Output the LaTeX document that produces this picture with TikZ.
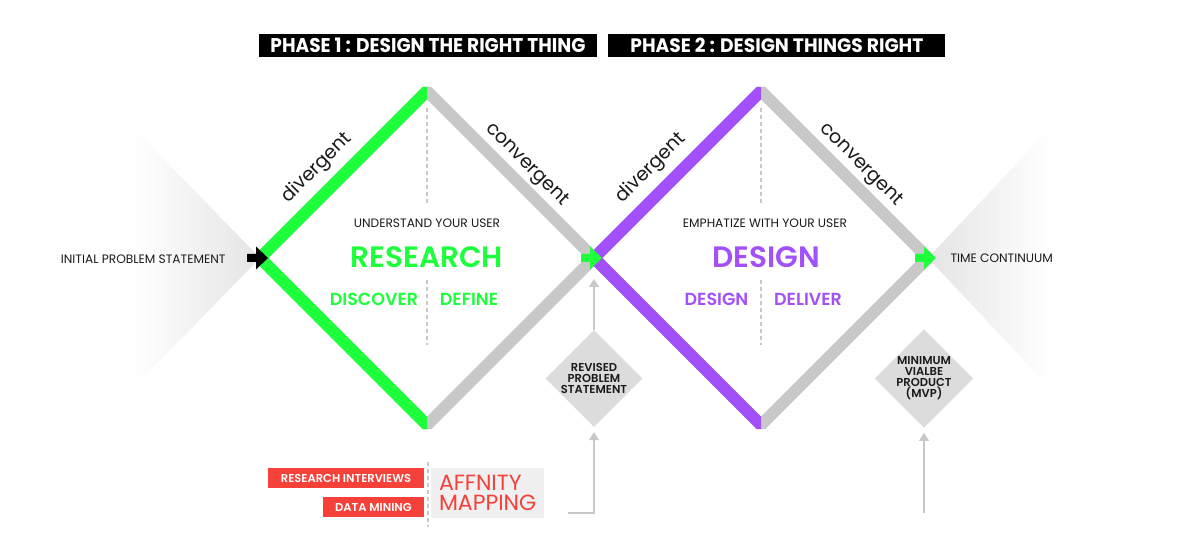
\documentclass[tikz,border=0pt]{standalone}
\usepackage{graphicx}
\usepackage{fontspec}
\setmainfont{Poppins}
\IfFontExistsTF{Poppins SemiBold}
  {\newfontfamily\semifont{Poppins SemiBold}}
  {\newcommand\semifont{\bfseries}}
\usepackage{tikz}
\usetikzlibrary{shapes,arrows.meta,positioning}

\definecolor{ddgreen}{HTML}{1EFF3C}
\definecolor{ddpurple}{HTML}{A450FA}
\definecolor{ddgray}{HTML}{C8C8C8}
\definecolor{ddfade}{HTML}{E4E4E4}
\definecolor{ddbox}{HTML}{DCDCDC}
\definecolor{ddred}{HTML}{F5413A}
\definecolor{ddpale}{HTML}{F0F0F0}
\definecolor{ddink}{HTML}{1A1A1A}

\begin{document}
\begin{tikzpicture}[x=1pt,y=-1pt,>={Triangle[width=10pt,length=8pt]},
    sideline/.style={line width=12pt,line join=bevel},
    guideline/.style={ddgray,line width=1.2pt,dash pattern=on 4pt off 3pt},
    linkline/.style={ddgray,line width=1.2pt,->},
    phasebar/.style={fill=black,text=white,minimum width=338pt,minimum height=23pt,
                     inner sep=0pt,font=\bfseries},
    edgetext/.style={text=ddink,font=\fontsize{19}{19}\selectfont},
    smallcap/.style={text=ddink,font=\fontsize{12.2}{12}\selectfont},
    bigword/.style={font=\semifont\fontsize{29.5}{29}\selectfont},
    subword/.style={font=\semifont\fontsize{17.5}{17}\selectfont},
    milestone/.style={diamond,fill=ddbox,minimum size=97pt,inner sep=0pt,align=center,
                      text=ddink,font=\semifont\fontsize{11.5}{11}\selectfont},
    tagbox/.style={fill=ddred,text=white,minimum height=20pt,inner sep=0pt,
                   font=\semifont\fontsize{11.5}{11}\selectfont},
    mapbox/.style={fill=ddpale,text=ddred,align=left,text width=97pt,inner xsep=8pt,
                   minimum height=50pt,font=\fontsize{22}{20}\selectfont},
    blockarrow/.pic={\fill[#1] (-13,-4) -- (-4,-4) -- (-4,-11.5) -- (8,0)
                       -- (-4,11.5) -- (-4,4) -- (-13,4) -- cycle;}]

  \useasboundingbox (0,0) rectangle (1200,540);
  \fill[white] (0,0) rectangle (1200,540);

  \coordinate (L1) at (260,258);
  \coordinate (T1) at (427,91);
  \coordinate (R1) at (594,258);
  \coordinate (B1) at (427,425);
  \coordinate (T2) at (761,91);
  \coordinate (R2) at (928,258);
  \coordinate (B2) at (761,425);

  \shade[left color=white,right color=ddfade] (133,128) -- (L1) -- (133,388) -- cycle;
  \shade[left color=ddfade,right color=white] (R2) -- (1050,128) -- (1050,388) -- cycle;

  \draw[sideline,ddgray] (L1) -- (T1) -- (R1) -- (B1) -- cycle;
  \begin{scope}
    \clip (200,60) rectangle (427,470);
    \draw[sideline,ddgreen] (L1) -- (T1) -- (R1) -- (B1) -- cycle;
  \end{scope}
  \draw[sideline,ddgray] (R1) -- (T2) -- (R2) -- (B2) -- cycle;
  \begin{scope}
    \clip (500,60) rectangle (761,470);
    \draw[sideline,ddpurple] (R1) -- (T2) -- (R2) -- (B2) -- cycle;
  \end{scope}

  \draw[guideline] (427,108) -- (427,203);
  \draw[guideline] (427,280) -- (427,345);
  \draw[guideline] (761,108) -- (761,203);
  \draw[guideline] (761,280) -- (761,345);

  \node[phasebar]                          (phase1) at (428,45.5)
       {\resizebox{315pt}{14.5pt}{PHASE 1 : DESIGN THE RIGHT THING}};
  \node[phasebar,minimum width=337pt]      (phase2) [right=11pt of phase1]
       {\resizebox{293pt}{14.5pt}{PHASE 2 : DESIGN THINGS RIGHT}};

  \node[edgetext,rotate=45]  (div1)  at ([shift={(57,-90)}]L1) {divergent};
  \node[edgetext,rotate=-45] (conv1) at ([shift={(100,74)}]T1) {convergent};
  \node[edgetext,rotate=45]  (div2)  at ([shift={(57,-90)}]R1) {divergent};
  \node[edgetext,rotate=-45] (conv2) at ([shift={(100,74)}]T2) {convergent};

  \node[smallcap]                (understand) at (427,223)   {UNDERSTAND YOUR USER};
  \node[bigword,text=ddgreen]    (research)   at (427,257.5) {RESEARCH};
  \node[subword,text=ddgreen]    (discover)   at (374,299)   {DISCOVER};
  \node[subword,text=ddgreen]    (define)     at (469,299)   {DEFINE};
  \node[smallcap]                (empathize)  at (765,223)   {EMPHATIZE WITH YOUR USER};
  \node[bigword,text=ddpurple]   (design)     at (766,257.5) {DESIGN};
  \node[subword,text=ddpurple]   (shaping)    at (716.5,299) {DESIGN};
  \node[subword,text=ddpurple]   (deliver)    at (808,299)   {DELIVER};

  \node[smallcap,anchor=east]    (initial)    at (229,259)   {INITIAL PROBLEM STATEMENT};
  \node[smallcap,anchor=west]    (timeline)   at (947,258)   {TIME CONTINUUM};

  \node[milestone] (revised) at (594,378.5) {REVISED\\PROBLEM\\STATEMENT};
  \node[milestone] (mvp)     at (924,378.5) {MINIMUM\\VIALBE\\PRODUCT\\(MVP)};

  \node[tagbox,minimum width=156pt] (interviews) at (346,478) {RESEARCH INTERVIEWS};
  \node[tagbox,minimum width=101pt] (mining) [below left=9pt and 0pt of interviews.south east]
       {DATA MINING};
  \draw[guideline] (428,462) -- (428,527);
  \node[mapbox] (affinity) at (487.5,493) {AFFNITY\\MAPPING};

  \coordinate (revfoot) at (568,513);
  \coordinate (mvpfoot) at (924,513);
  \draw[linkline,shorten >=21pt] (revised) -- (R1);
  \draw[linkline,shorten >=5pt]  (revfoot) -| (revised.south);
  \draw[linkline,shorten >=5pt]  (mvpfoot) -- (mvp.south);

  \pic at (L1) {blockarrow=black};
  \pic at (R1) {blockarrow=ddgreen};
  \pic at (R2) {blockarrow=ddgreen};
\end{tikzpicture}
\end{document}
